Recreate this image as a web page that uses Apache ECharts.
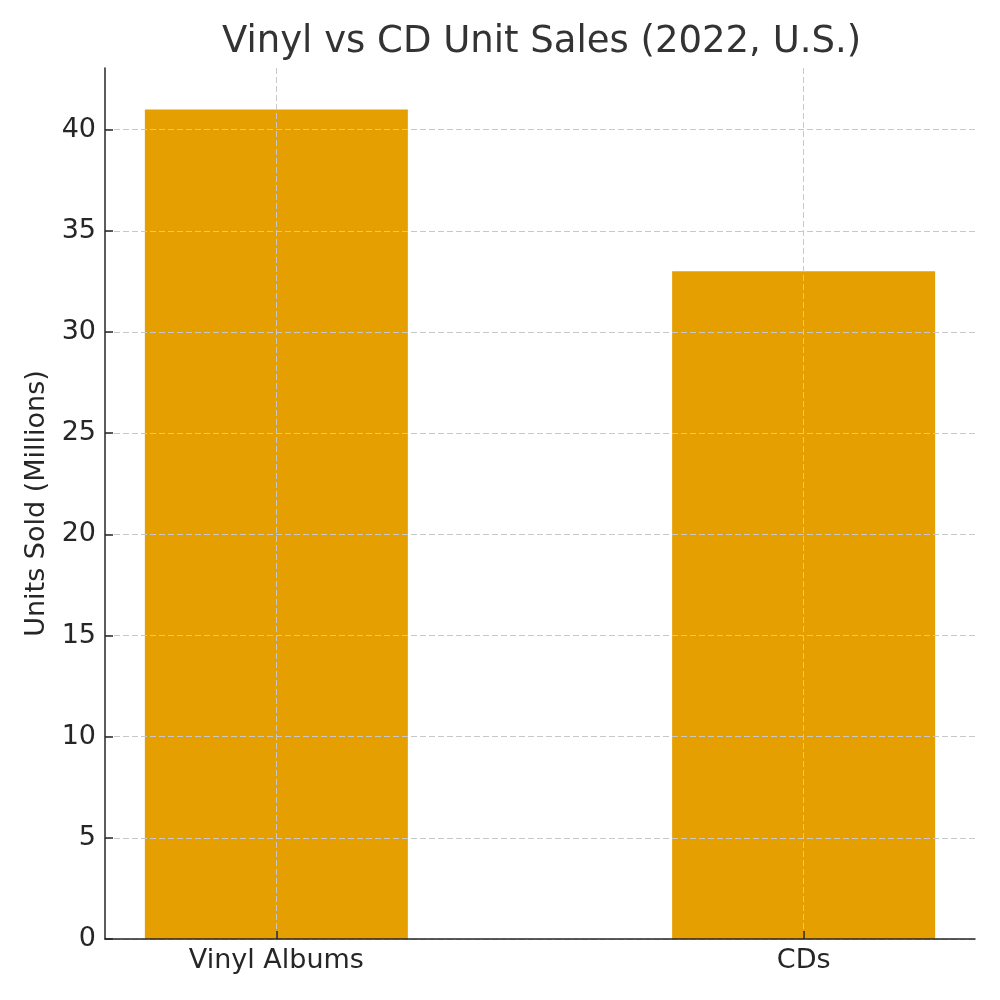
<!DOCTYPE html>
<html>
<head>
<meta charset="utf-8">
<script src="https://cdn.jsdelivr.net/npm/echarts@6/dist/echarts.min.js"></script>
<style>
  html, body { margin: 0; padding: 0; background: #fff; }
  #main { width: 1000px; height: 1000px; }
</style>
</head>
<body>
<div id="main"></div>
<script>
// data
var categories = ['Vinyl Albums', 'CDs'];
var unitsSold = [41, 33];
var yTicks = [0, 5, 10, 15, 20, 25, 30, 35, 40];

var chart = echarts.init(document.getElementById('main'));

var textColor = '#262626';
var gridLine = { show: true, lineStyle: { color: '#c8c8c8', type: [6, 3], width: 1 } };

var option = {
    backgroundColor: '#fff',
    animation: false,
    textStyle: { fontFamily: 'DejaVu Sans' },
    title: {
        text: 'Vinyl vs CD Unit Sales (2022, U.S.)',
        left: 217,
        top: 19,
        textStyle: { fontSize: 37, fontWeight: 'normal', color: '#333333', fontFamily: 'DejaVu Sans' }
    },
    grid: { left: 105, right: 25, top: 68, bottom: 61, containLabel: false, outerBoundsMode: 'none' },
    xAxis: {
        type: 'value',
        min: -0.325,
        max: 1.325,
        z: 5,
        axisLine: { show: true, onZero: false, lineStyle: { color: textColor, width: 1.5 } },
        axisTick: { show: true, inside: true, length: 8, customValues: [0, 1], lineStyle: { color: textColor, width: 1.5 } },
        axisLabel: {
            customValues: [0, 1],
            formatter: function (v) { return categories[Math.round(v)]; },
            fontSize: 27, color: textColor, margin: 8
        },
        splitLine: gridLine
    },
    yAxis: {
        type: 'value',
        min: 0,
        max: 43.05,
        z: 5,
        name: 'Units Sold (Millions)',
        nameLocation: 'middle',
        nameGap: 54,
        nameTextStyle: { fontSize: 27, color: textColor },
        axisLine: { show: true, onZero: false, lineStyle: { color: textColor, width: 1.5 } },
        axisTick: { show: true, inside: true, length: 8, customValues: yTicks, lineStyle: { color: textColor, width: 1.5 } },
        axisLabel: { customValues: yTicks, fontSize: 27, color: textColor, margin: 9 },
        splitLine: gridLine
    },
    series: [{
        type: 'bar',
        barWidth: 263,
        itemStyle: { color: '#E69F00' },
        data: unitsSold.map(function (v, i) { return [i, v]; })
    }]
};

chart.setOption(option);
</script>
</body>
</html>
